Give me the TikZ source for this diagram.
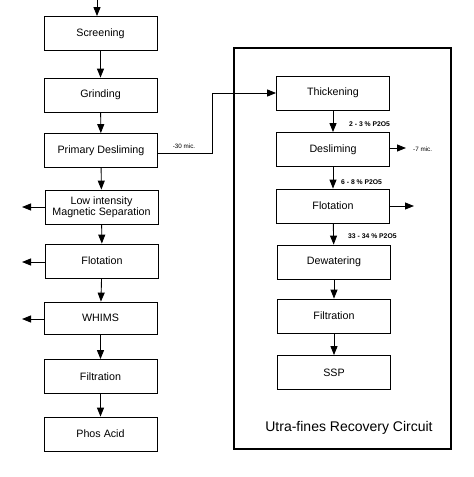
\documentclass[tikz,border=0pt]{standalone}
\usepackage{fontspec}
\setmainfont{Liberation Sans}
\usetikzlibrary{arrows.meta}
\begin{document}
\begin{tikzpicture}[x=1pt,y=-1pt,
  box/.style={draw, line width=0.8pt, minimum width=113pt, minimum height=34pt, inner sep=0pt, align=center, font=\fontsize{10.7}{12}\selectfont},
  flow/.style={line width=0.9pt, -{Triangle[length=9pt,width=7pt]}},
  lbl/.style={font=\fontsize{6.8}{7}\selectfont\bfseries, inner sep=0pt, anchor=west},
  tiny/.style={font=\fontsize{6.3}{7}\selectfont, inner sep=0pt},
  frame/.style={draw, line width=1.6pt}]
\useasboundingbox (0,0) rectangle (474,477);
% left column
\node[box] (scr) at (100.5,33.5) {Screening};
\node[box] (gri) at (100.5,95) {Grinding};
\node[box] (pri) at (101,150.5) {Primary Desliming};
\node[box] (low) at (101.5,207) {Low intensity\\[-1pt]Magnetic Separation};
\node[box] (flo) at (102,261) {Flotation};
\node[box, minimum height=32pt] (whi) at (100.5,318) {WHIMS};
\node[box] (fil) at (100.5,376.5) {Filtration};
\node[box] (pho) at (100.5,434) {Phos Acid};
\coordinate (in) at (97,0);
\draw[flow] (in) -- (in |- scr.north);
\draw[flow] (scr) -- (gri);
\draw[flow] (gri) -- (pri);
\draw[flow] (pri) -- (low);
\draw[flow] (low) -- (flo);
\draw[flow] (flo) -- (whi);
\draw[flow] (whi) -- (fil);
\draw[flow] (fil) -- (pho);
\coordinate (lowout) at (22,207);
\coordinate (floout) at (22,262);
\coordinate (whiout) at (22,319);
\draw[flow] (low.west |- lowout) -- (lowout);
\draw[flow] (flo.west |- floout) -- (floout);
\draw[flow] (whi.west |- whiout) -- (whiout);
% frame
\node[frame, minimum width=217pt, minimum height=401pt, inner sep=0pt] (circ) at (342.5,248.5) {};
% right column
\node[box] (thi) at (333,93) {Thickening};
\node[box] (des) at (333,149.5) {Desliming};
\node[box] (rfl) at (333,206) {Flotation};
\node[box] (dew) at (334,262) {Dewatering};
\node[box] (rfi) at (334,316) {Filtration};
\node[box] (ssp) at (334,372.5) {SSP};
\node[font=\fontsize{14}{16}\selectfont, inner sep=0pt] (title) at (349,428) {Utra-fines Recovery Circuit};
\draw[flow] (thi) -- (des);
\draw[flow] (des) -- (rfl);
\draw[flow] (rfl) -- (dew);
\draw[flow] (dew) -- (rfi);
\draw[flow] (rfi) -- (ssp);
\node[lbl] (l1) at (349,124) {2 - 3 \% P2O5};
\node[lbl] (l2) at (341,182) {6 - 8 \% P2O5};
\node[lbl] (l3) at (348,236) {33 - 34 \% P2O5};
\coordinate (desout) at (406,148);
\coordinate (rflout) at (414,206);
\draw[flow] (des.east |- desout) -- (desout);
\draw[flow] (rfl.east |- rflout) -- (rflout);
\node[tiny, anchor=west] (m7) at (413,149) {-7 mic.};
% connector to ultra-fines
\coordinate (bend) at (212,153);
\draw[flow] (pri.east |- bend) -- (bend) |- (thi.west);
\node[tiny] (m30) at (184,146) {-30 mic.};
\end{tikzpicture}
\end{document}
